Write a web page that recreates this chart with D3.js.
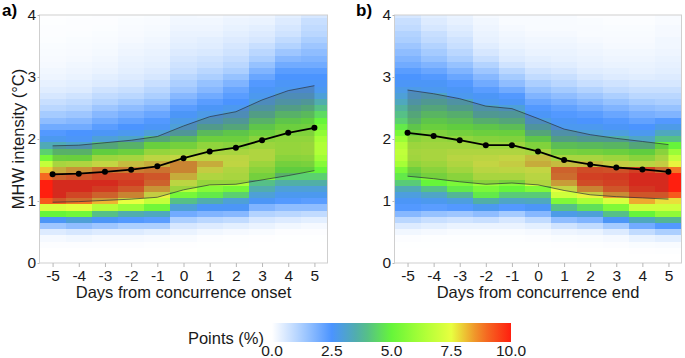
<!DOCTYPE html>
<html><head><meta charset="utf-8">
<script src="https://cdn.jsdelivr.net/npm/d3@7"></script>
<style>body{margin:0;background:#fff;} svg{display:block;font-family:"Liberation Sans",Arial,Helvetica,sans-serif;}</style>
</head><body><svg id="c" width="685" height="358"></svg>
<script>
// ---------- DATA ----------
const days = [-5,-4,-3,-2,-1,0,1,2,3,4,5];
// intensity bin centres 0.0 .. 4.0 step 0.1 (°C)
const binCenters = d3.range(41).map(i => i / 10);

// Panel a: % of points per intensity bin, one array per day (-5..5), bins 0.0..4.0
const heatA = [
 [0,0,0,0.05,0.15,0.5,1.4,2.6,5.0,7.2, 9.2,10.5,10.8,10.3,9.0,8.0,6.8,5.3,4.3,3.4, 2.7,2.4,2.0,1.6,1.3,1.0,0.8,0.6,0.45,0.35, 0.25,0.2,0.15,0.12,0.1,0.08,0.06,0.05,0.04,0.03, 0.02],
 [0,0,0,0.05,0.2,0.6,1.6,3.0,5.2,7.4, 8.8,9.5,10.0,10.0,9.2,8.3,7.0,5.2,4.3,3.2, 2.6,2.5,2.0,1.7,1.4,1.1,0.9,0.7,0.5,0.4, 0.3,0.25,0.2,0.15,0.12,0.1,0.08,0.06,0.05,0.04, 0.03],
 [0,0,0,0.05,0.15,0.5,1.4,2.6,4.0,6.5, 8.2,9.0,9.7,10.0,9.5,8.7,7.5,6.5,5.0,4.0, 3.0,2.6,2.3,2.0,1.7,1.4,1.1,0.9,0.7,0.5, 0.4,0.3,0.25,0.2,0.16,0.13,0.1,0.08,0.06,0.05, 0.04],
 [0,0,0,0.05,0.15,0.5,1.2,2.4,3.5,6.0, 7.5,8.5,9.2,9.7,9.5,8.6,7.8,6.7,5.3,4.3, 3.2,2.7,2.5,2.2,1.9,1.6,1.3,1.0,0.8,0.6, 0.5,0.4,0.35,0.3,0.25,0.2,0.15,0.12,0.1,0.08, 0.06],
 [0,0,0,0.03,0.12,0.4,1.2,2.3,3.3,5.2, 6.8,7.6,8.3,9.0,9.2,8.7,8.0,7.3,6.3,5.2, 4.0,3.0,2.6,2.4,2.1,1.8,1.5,1.2,1.0,0.8, 0.6,0.5,0.4,0.35,0.3,0.25,0.2,0.16,0.13,0.1, 0.08],
 [0,0,0,0.02,0.1,0.3,0.6,1.2,2.0,3.0, 4.0,5.3,6.5,7.3,8.0,8.5,8.5,7.5,6.5,5.5, 4.5,3.5,3.0,2.8,2.6,2.3,2.0,1.7,1.4,1.2, 1.0,0.8,0.7,0.6,0.5,0.4,0.35,0.3,0.25,0.2, 0.18],
 [0,0,0,0.01,0.05,0.2,0.5,1.0,1.8,2.6, 3.5,4.8,5.6,6.3,7.0,7.6,8.0,7.3,6.8,6.2, 5.3,4.5,3.7,3.1,2.8,2.6,2.3,2.0,1.7,1.5, 1.2,1.0,0.8,0.7,0.55,0.45,0.4,0.3,0.25,0.2, 0.15],
 [0,0,0,0.01,0.03,0.15,0.4,0.9,1.7,2.6, 3.0,4.3,5.3,6.3,6.8,7.0,7.4,7.3,6.8,6.0, 5.3,4.8,4.0,3.5,3.0,2.7,2.5,2.3,2.1,1.8, 1.5,1.2,1.0,0.85,0.7,0.6,0.5,0.4,0.33,0.27, 0.22],
 [0,0,0,0,0.02,0.1,0.3,0.6,1.1,1.8, 2.6,3.0,3.5,4.0,5.5,6.0,6.5,7.0,7.0,6.5, 6.0,5.3,4.8,4.3,3.8,3.3,2.9,2.7,2.6,2.4, 2.1,1.8,1.5,1.2,1.0,0.8,0.6,0.5,0.4,0.3, 0.25],
 [0,0,0,0,0.01,0.05,0.2,0.5,1.0,1.6, 2.4,2.7,3.0,3.6,4.3,5.0,5.5,6.0,6.3,6.3, 6.2,5.8,5.3,4.8,4.3,3.8,3.3,3.0,2.7,2.6, 2.5,2.3,2.0,1.7,1.4,1.1,0.9,0.7,0.6,0.5, 0.4],
 [0,0,0,0,0.01,0.05,0.15,0.4,0.9,1.6, 2.3,2.7,3.0,3.6,4.3,5.0,5.6,6.1,6.4,6.4, 6.2,5.8,5.4,5.0,4.5,4.0,3.5,3.0,2.7,2.6, 2.5,2.3,2.0,1.8,1.6,1.4,1.2,1.0,0.9,0.8, 0.6]
];
// Panel b
const heatB = [
 [0,0,0,0.01,0.05,0.2,0.5,1.0,1.7,2.4, 2.6,2.9,3.4,4.2,4.8,5.4,6.2,6.6,6.7,6.5, 6.0,5.4,4.8,4.3,4.0,3.7,3.3,3.0,2.8,2.6, 2.5,2.3,2.0,1.8,1.6,1.4,1.2,1.1,0.9,0.8, 0.6],
 [0,0,0,0.01,0.03,0.15,0.4,0.8,1.5,2.3, 2.7,3.2,4.0,5.0,5.5,6.0,6.5,6.8,6.8,6.6, 6.3,5.8,5.2,4.8,4.4,4.0,3.6,3.2,2.7,2.6, 2.4,2.1,1.8,1.5,1.3,1.1,0.9,0.8,0.6,0.5, 0.4],
 [0,0,0,0.01,0.03,0.1,0.3,0.7,1.4,2.4, 2.9,3.8,4.8,5.4,6.0,6.6,7.0,7.2,7.0,6.6, 6.2,5.5,5.0,4.6,4.2,3.7,3.3,2.7,2.6,2.4, 2.1,1.8,1.5,1.2,1.0,0.8,0.7,0.55,0.45,0.35, 0.3],
 [0,0,0,0.01,0.03,0.1,0.3,0.8,1.6,2.7, 3.6,4.8,5.4,6.0,6.8,7.2,7.5,7.3,7.0,6.5, 5.9,5.3,4.8,4.2,3.6,3.2,2.7,2.6,2.3,2.0, 1.7,1.4,1.1,0.8,0.6,0.45,0.35,0.3,0.25,0.2, 0.15],
 [0,0,0,0.01,0.03,0.1,0.3,0.6,1.3,2.4, 3.2,4.2,5.0,5.6,6.8,7.3,7.6,7.5,7.0,6.5, 5.8,5.2,4.6,4.0,3.5,3.0,2.6,2.4,2.0,1.6, 1.3,1.0,0.7,0.5,0.4,0.3,0.25,0.2,0.15,0.1, 0.1],
 [0,0,0,0.01,0.05,0.15,0.4,0.9,1.7,2.6, 3.3,4.2,5.5,7.0,7.2,7.5,8.0,7.8,6.8,5.8, 4.8,4.0,3.4,2.9,2.6,2.4,2.1,1.8,1.5,1.2, 0.9,0.7,0.5,0.4,0.3,0.25,0.2,0.15,0.1,0.1, 0.1],
 [0,0,0,0.02,0.08,0.25,0.7,1.6,2.8,4.0, 5.5,7.0,7.5,8.2,8.8,9.0,7.8,6.8,5.6,4.6, 3.8,3.2,2.7,2.6,2.4,2.2,1.9,1.6,1.3,1.0, 0.8,0.6,0.45,0.35,0.3,0.25,0.2,0.15,0.1,0.1, 0.1],
 [0,0,0,0.03,0.1,0.3,0.9,1.8,3.0,4.6, 6.3,7.6,8.5,9.4,9.6,9.4,7.8,6.8,5.5,4.5, 3.6,3.0,2.7,2.5,2.3,2.0,1.7,1.4,1.1,0.8, 0.6,0.45,0.35,0.3,0.25,0.2,0.15,0.1,0.1,0.08, 0.05],
 [0,0,0,0.05,0.15,0.5,1.3,2.6,4.0,5.5, 7.2,8.4,9.2,9.6,9.7,9.3,7.6,6.5,5.3,4.4, 3.6,2.9,2.6,2.4,2.1,1.8,1.5,1.2,0.9,0.7, 0.5,0.4,0.3,0.25,0.2,0.15,0.12,0.1,0.08,0.06, 0.05],
 [0,0,0.02,0.08,0.3,0.9,2.0,3.3,5.0,7.0, 8.3,9.2,9.8,10.2,10.2,9.6,7.2,6.0,5.0,4.0, 3.2,2.7,2.5,2.2,1.9,1.6,1.3,1.0,0.8,0.6, 0.45,0.35,0.3,0.25,0.2,0.15,0.12,0.1,0.08,0.06, 0.05],
 [0,0,0.03,0.1,0.4,1.2,2.4,3.8,5.8,7.0, 7.8,9.2,10.5,11,10.8,8.8,7.6,6.8,6.0,5.0, 4.0,3.3,2.8,2.4,1.8,1.5,1.2,1.0,0.8,0.6, 0.5,0.4,0.35,0.3,0.25,0.2,0.2,0.15,0.15,0.1, 0.1]
];

const medianA = [1.43,1.44,1.47,1.505,1.56,1.69,1.80,1.86,1.98,2.10,2.18];
const lowerA  = [0.98,0.99,1.01,1.03,1.06,1.18,1.26,1.27,1.34,1.41,1.49];
const upperA  = [1.89,1.90,1.94,1.98,2.04,2.21,2.36,2.44,2.63,2.78,2.86];
const medianB = [2.10,2.05,1.98,1.90,1.90,1.80,1.66,1.59,1.54,1.51,1.47];
const lowerB  = [1.40,1.36,1.31,1.27,1.29,1.26,1.17,1.10,1.07,1.05,1.03];
const upperB  = [2.79,2.73,2.65,2.53,2.49,2.33,2.16,2.07,2.01,1.96,1.91];

const yTicks = [0,1,2,3,4];
const cbTicks = [0,2.5,5,7.5,10];
const cbTickLabels = ["0.0","2.5","5.0","7.5","10.0"];
const panelLabels = ["a)","b)"];
const xTitles = ["Days from concurrence onset","Days from concurrence end"];
const yTitle = "MHW intensity (°C)";
const cbTitle = "Points (%)";

// ---------- STYLE ----------
const cStops = [0,1.25,2.5,3.75,5,6.25,7.5,8.75,10];
const cCols  = ["#ffffff","#a9cdff","#4b94ff","#52b39a","#66f53a","#a8ff36","#e8ff40","#f27a25","#ff1f0f"];
const color = d3.scaleLinear().domain(cStops).range(cCols).interpolate(d3.interpolateRgb).clamp(true);

const svg = d3.select("#c");
const y = d3.scaleLinear().domain([0,4]).range([263,15]);
const frameCol = "#cfcfcf";

const panels = [
  {x0:39.5, x1:327.5, heat:heatA, med:medianA, lo:lowerA, hi:upperA, lab:panelLabels[0], labX:2, title:xTitles[0]},
  {x0:394.5, x1:681.5, heat:heatB, med:medianB, lo:lowerB, hi:upperB, lab:panelLabels[1], labX:356, title:xTitles[1]}
];

panels.forEach((p, pi) => {
  const x = d3.scaleLinear().domain([-5.5,5.5]).range([p.x0,p.x1]);
  const g = svg.append("g");
  const clipId = "clip" + pi;
  svg.append("clipPath").attr("id", clipId).append("rect")
    .attr("x", p.x0).attr("y", y(4)).attr("width", p.x1 - p.x0).attr("height", y(0) - y(4));
  const cells = [];
  days.forEach((d, j) => binCenters.forEach((v, i) => {
    const val = p.heat[j][i];
    if (val > 0) cells.push({d, v, val});
  }));
  const hm = g.append("g").attr("clip-path", `url(#${clipId})`);
  hm.selectAll("rect").data(cells).join("rect")
    .attr("x", c => x(c.d - 0.5)).attr("width", c => x(c.d + 0.5) - x(c.d - 0.5) + 0.3)
    .attr("y", c => y(c.v + 0.05)).attr("height", c => y(c.v - 0.05) - y(c.v + 0.05) + 0.3)
    .attr("fill", c => color(c.val)).attr("shape-rendering","crispEdges");

  const band = days.map((d, i) => ({d, lo:p.lo[i], hi:p.hi[i], m:p.med[i]}));
  g.append("path").datum(band)
    .attr("d", d3.area().x(b => x(b.d)).y0(b => y(b.lo)).y1(b => y(b.hi)))
    .attr("fill", "#505050").attr("fill-opacity", 0.24);
  ["lo","hi"].forEach(k => g.append("path").datum(band)
    .attr("d", d3.line().x(b => x(b.d)).y(b => y(b[k])))
    .attr("fill","none").attr("stroke","#2a3038").attr("stroke-width",0.8).attr("stroke-opacity",0.85));
  g.append("path").datum(band)
    .attr("d", d3.line().x(b => x(b.d)).y(b => y(b.m)))
    .attr("fill","none").attr("stroke","#000").attr("stroke-width",1.8);
  g.selectAll("circle").data(band).join("circle")
    .attr("cx", b => x(b.d)).attr("cy", b => y(b.m)).attr("r", 3).attr("fill","#000");

  // frame
  g.append("rect").attr("x", p.x0).attr("y", y(4)).attr("width", p.x1 - p.x0).attr("height", y(0) - y(4))
    .attr("fill","none").attr("stroke", frameCol).attr("stroke-width",1);

  // axes
  const xa = g.append("g").attr("transform", `translate(0,${y(0)})`)
    .call(d3.axisBottom(x).tickValues(days).tickFormat(d => String(d)).tickSize(4).tickPadding(3));
  xa.select(".domain").remove();
  xa.selectAll("line").attr("stroke", "#b8b8b8");
  xa.selectAll("text").attr("font-size", 15.5).attr("fill","#1a1a1a").attr("font-family","Liberation Sans, Arial, sans-serif");
  const ya = g.append("g").attr("transform", `translate(${p.x0},0)`)
    .call(d3.axisLeft(y).tickValues(yTicks).tickFormat(d => String(d)).tickSize(2).tickPadding(1.5));
  ya.select(".domain").remove();
  ya.selectAll("line").attr("stroke", "#b8b8b8");
  ya.selectAll("text").attr("font-size", 15.5).attr("fill","#1a1a1a").attr("font-family","Liberation Sans, Arial, sans-serif");

  g.append("text").attr("x", (p.x0 + p.x1)/2).attr("y", 297.5).attr("text-anchor","middle")
    .attr("font-size", 16.5).attr("fill","#1a1a1a").text(p.title);
  g.append("text").attr("x", p.labX).attr("y", 16).attr("font-size", 17).attr("font-weight","bold")
    .attr("fill","#000").text(p.lab);
});

// y title
svg.append("text").attr("transform","translate(24,139) rotate(-90)").attr("text-anchor","middle")
  .attr("font-size", 16.5).attr("fill","#1a1a1a").text(yTitle);

// colourbar
const cb = d3.scaleLinear().domain([0,10]).range([272,511]);
const defs = svg.append("defs");
const grad = defs.append("linearGradient").attr("id","cbg").attr("x1","0%").attr("x2","100%");
d3.range(0, 10.01, 0.5).forEach(v => grad.append("stop").attr("offset", (v*10)+"%").attr("stop-color", color(v)));
svg.append("rect").attr("x", cb(0)).attr("y", 323).attr("width", cb(10)-cb(0)).attr("height", 19).attr("fill","url(#cbg)");
svg.selectAll(".cbt").data(cbTicks).join("text").attr("class","cbt")
  .attr("x", d => cb(d)).attr("y", 356).attr("text-anchor","middle").attr("font-size", 15.5).attr("fill","#1a1a1a")
  .text((d,i) => cbTickLabels[i]);
svg.append("text").attr("x", 264).attr("y", 343.5).attr("text-anchor","end").attr("font-size", 16.5)
  .attr("fill","#1a1a1a").text(cbTitle);
</script></body></html>
